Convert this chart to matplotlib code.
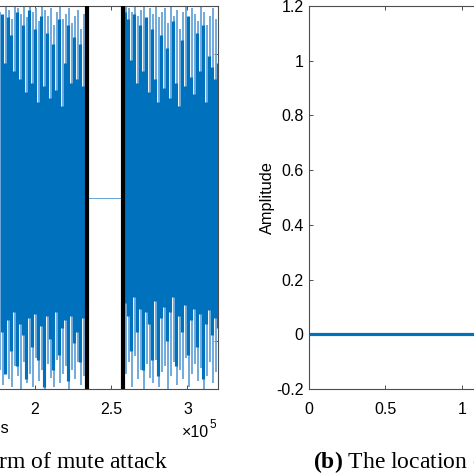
import numpy as np
import matplotlib
matplotlib.use('Agg')
import matplotlib.pyplot as plt

plt.rcParams['font.family'] = ['Liberation Sans', 'DejaVu Sans']
plt.rcParams['mathtext.fontset'] = 'custom'
plt.rcParams['mathtext.rm'] = 'Liberation Serif'
plt.rcParams['mathtext.bf'] = 'Liberation Serif:bold'

# waveform envelope read per column (every ~1960 samples), visible part only
step = 1960
left_start = 176660
right_start = 259000

left_top_peak = [0.97, 0.95, 1.0, 0.98, 0.93, 1.0, 0.99, 0.96, 1.0, 0.94, 1.0, 0.97, 0.99, 0.92, 1.0,
                 0.98, 0.95, 0.99, 0.90, 0.97, 1.0, 0.93, 0.96, 0.99, 0.91, 0.95, 0.98, 0.88, 0.96, 0.93]
left_top_dark = [0.68, 0.96, 0.70, 0.94, 0.85, 0.66, 0.97, 0.62, 0.90, 0.55, 0.98, 0.60, 0.88, 0.50, 0.95,
                 0.58, 0.86, 0.52, 0.80, 0.56, 0.93, 0.48, 0.70, 0.90, 0.60, 0.84, 0.62, 0.80, 0.58, 0.75]
left_bot_peak = [0.90, 0.98, 0.85, 0.95, 0.99, 0.88, 0.93, 1.0, 0.86, 0.97, 0.92, 0.99, 0.84, 0.96, 0.90,
                 1.0, 0.87, 0.94, 0.99, 0.85, 0.97, 0.92, 0.88, 1.0, 0.90, 0.95, 0.86, 0.98, 0.93, 0.89]
left_bot_dark = [0.62, 0.70, 0.92, 0.64, 0.80, 0.60, 0.88, 0.66, 0.72, 0.95, 0.63, 0.78, 0.61, 0.85, 0.67,
                 0.99, 0.62, 0.74, 0.90, 0.60, 0.82, 0.68, 0.64, 0.96, 0.62, 0.76, 0.70, 0.86, 0.63, 0.72]

right_top_peak = [1.0, 0.99, 0.97, 1.0, 0.95, 0.98, 1.0, 0.93, 0.99, 0.96, 1.0, 0.94, 0.97, 0.99, 0.91, 1.0,
                  0.95, 0.98, 0.88, 0.97, 1.0, 0.94, 0.99, 0.96, 0.92, 1.0, 0.97, 0.90, 0.95, 0.99, 0.93, 0.96]
right_top_dark = [0.97, 0.93, 0.72, 0.96, 0.60, 0.90, 0.66, 0.94, 0.55, 0.88, 0.62, 0.50, 0.85, 0.57, 0.78, 0.52,
                  0.92, 0.60, 0.48, 0.82, 0.58, 0.95, 0.63, 0.54, 0.86, 0.66, 0.90, 0.50, 0.74, 0.68, 0.62, 0.70]
right_bot_peak = [0.92, 0.86, 0.99, 0.83, 0.95, 0.90, 1.0, 0.87, 0.94, 0.97, 0.85, 0.99, 0.91, 0.88, 1.0, 0.93,
                  0.86, 0.98, 0.90, 0.95, 0.84, 0.99, 0.92, 0.87, 0.96, 0.89, 1.0, 0.93, 0.86, 0.97, 0.91, 0.88]
right_bot_dark = [0.55, 0.62, 0.80, 0.52, 0.70, 0.58, 0.90, 0.60, 0.66, 0.85, 0.54, 0.93, 0.63, 0.57, 0.75, 0.60,
                  0.52, 0.88, 0.62, 0.70, 0.56, 0.82, 0.64, 0.58, 0.78, 0.61, 0.95, 0.66, 0.59, 0.72, 0.63, 0.68]

mute_start = 234400
mute_end = 257800
n_samples = 320000

loc_x = [0, mute_start, mute_start, mute_end, mute_end, n_samples]
loc_y = [0, 0, 1, 1, 0, 0]

xticks = [0, 50000, 100000, 150000, 200000, 250000, 300000]
xticklabels = ['0', '0.5', '1', '1.5', '2', '2.5', '3']
yticks = [-0.2, 0, 0.2, 0.4, 0.6, 0.8, 1, 1.2]
yticklabels = ['-0.2', '0', '0.2', '0.4', '0.6', '0.8', '1', '1.2']

dark = '#0072BD'
light = '#64A4DA'
W = 474.0

fig = plt.figure(figsize=(4.74, 4.74), dpi=100)
ax1 = fig.add_axes([-271 / W, 85 / W, 489 / W, 383 / W])
ax2 = fig.add_axes([309 / W, 85 / W, 489 / W, 383 / W])

for start, tp, td, bp, bd in [(left_start, left_top_peak, left_top_dark, left_bot_peak, left_bot_dark),
                              (right_start, right_top_peak, right_top_dark, right_bot_peak, right_bot_dark)]:
    x = start + step * np.arange(len(tp))
    ax1.vlines(x + step / 2, -np.array(bp), tp, color=light, lw=1.3)
    ax1.vlines(x, -np.array(bd), td, color=dark, lw=2.25)

ax1.plot([mute_start, mute_end], [0, 0], color=light, lw=0.7)
ax1.axvline(mute_start, color='black', lw=3, zorder=3)
ax1.axvline(mute_end, color='black', lw=3, zorder=3)
ax1.set_xlim(0, n_samples)
ax1.set_ylim(-1, 1)
ax1.set_ylabel('Amplitude')

ax2.plot(loc_x, loc_y, color=dark, lw=2.3)
ax2.set_xlim(0, n_samples)
ax2.set_ylim(-0.2, 1.2)
ax2.set_yticks(yticks)
ax2.set_yticklabels(yticklabels)
ax2.set_ylabel('Amplitude', fontsize=11.8, labelpad=1)

for ax in (ax1, ax2):
    ax.set_xticks(xticks)
    ax.set_xticklabels(xticklabels)
    ax.tick_params(direction='in', top=True, right=True, length=3, width=0.6,
                   color='#333333', labelsize=11.5)
    ax.tick_params(axis='x', pad=9)
    ax.tick_params(axis='y', pad=4)
    for s in ax.spines.values():
        s.set_color('#4d4d4d')
        s.set_linewidth(0.8)

fig.text(9 / W, (474 - 433) / W, 'Samples', ha='right', va='baseline', fontsize=11.8)
fig.text(182 / W, (474 - 437) / W, '×10', ha='left', va='baseline', fontsize=11.5)
fig.text(209 / W, (474 - 428) / W, '5', ha='left', va='baseline', fontsize=8.5)

fig.text(168 / W, 6 / W, r'$\mathbf{(a)}$ The waveform of mute attack', ha='right', va='baseline',
         fontsize=17, family='Liberation Serif')
fig.text(313 / W, 6 / W, r'$\mathbf{(b)}$ The location of mute attack', ha='left', va='baseline',
         fontsize=17, family='Liberation Serif')

fig.savefig('out.png', dpi=100)
